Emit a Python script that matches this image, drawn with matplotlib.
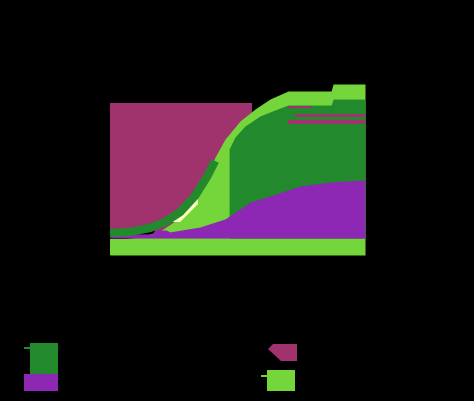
import matplotlib
matplotlib.use('Agg')
import matplotlib.pyplot as plt
from matplotlib.patches import Polygon, Rectangle

LIME = '#74d63a'
GREEN = '#23892d'
MAGENTA = '#a0326e'
PURPLE = '#8c28b4'
PALE = '#fffcc0'

# lime series: upper edge of the lime area
lime_x = [0, 11.8, 19.6, 25.5, 31.4, 37.3, 41.2, 45.1, 51.0, 56.9, 62.7, 69.8, 86.7, 87.5, 100]
lime_y = [8.8, 10.5, 14.0, 19.9, 29.8, 44.4, 57.3, 67.8, 78.4, 85.4, 91.2, 95.9, 95.9, 100, 100]

# dark green area (right part) and its band on the left
green_x = [46.7, 49.0, 52.9, 58.8, 64.7, 69.8, 86.7, 87.5, 100]
green_y = [62.0, 69.0, 75.4, 81.3, 84.8, 87.7, 87.7, 91.2, 91.2]
band_x = [0, 7.8, 15.7, 21.6, 27.5, 33.3, 38.0, 41.2]
band_y = [12.9, 13.5, 15.8, 19.3, 25.1, 34.5, 45.6, 55.0]

# purple area
purple_x = [0, 16.5, 17.6, 22.0, 23.5, 35.3, 45.1, 51.0, 54.9, 62.7, 74.5, 86.3, 100]
purple_y = [12.3, 12.3, 14.6, 14.6, 13.5, 16.4, 21.1, 26.9, 31.0, 34.5, 40.4, 42.7, 43.9]
purple_base = 9.9

# lime floor band
floor_x = [0, 100]
floor_top = 9.4

# magenta block and strips
block_x = [0, 55.7]
block_lo, block_hi = 14.0, 88.9
strips = [
    ([69.8, 79.2], 86.0, 87.1),
    ([72.5, 100], 80.7, 82.5),
    ([69.8, 100], 76.6, 78.9),
]

# pale wedge
wedge = [(23.5, 19.3), (34.5, 34.5), (34.5, 29.8), (27.5, 19.3)]

fig = plt.figure(figsize=(4.74, 4.02), dpi=100, facecolor='black')

# legend keys drawn in pixel space
bg = fig.add_axes([0, 0, 1, 1])
bg.set_xlim(0, 474)
bg.set_ylim(402, 0)
bg.axis('off')
bg.add_patch(Rectangle((30, 344), 28, 31, color=GREEN, lw=0))
bg.add_patch(Rectangle((24, 348), 6, 2, color=GREEN, lw=0))
bg.add_patch(Rectangle((24, 375), 34, 17, color=PURPLE, lw=0))
bg.add_patch(Polygon([(268, 350), (273, 345), (297, 345), (297, 362), (281, 362)],
                     closed=True, color=MAGENTA, lw=0))
bg.add_patch(Rectangle((267, 371), 28, 21, color=LIME, lw=0))
bg.add_patch(Rectangle((261, 376), 6, 2, color=LIME, lw=0))

ax = fig.add_axes([110 / 474, 1 - 256 / 402, 255 / 474, 171 / 402])
ax.set_facecolor('black')
ax.set_xlim(0, 100)
ax.set_ylim(0, 100)
ax.axis('off')

ax.fill_between(block_x, block_lo, block_hi, color=MAGENTA, lw=0)
ax.fill_between(lime_x, 0, lime_y, color=LIME, lw=0)
ax.fill_between(green_x, purple_base, green_y, color=GREEN, lw=0)
ax.plot(band_x, band_y, color=GREEN, lw=6, solid_capstyle='butt')
ax.add_patch(Polygon(wedge, closed=True, color=PALE, lw=0))
ax.fill_between(purple_x, purple_base, purple_y, color=PURPLE, lw=0)
ax.fill_between(floor_x, 0, floor_top, color=LIME, lw=0)
for sx, lo, hi in strips:
    ax.fill_between(sx, lo, hi, color=MAGENTA, lw=0)

fig.savefig('out.png', dpi=100, facecolor='black')
